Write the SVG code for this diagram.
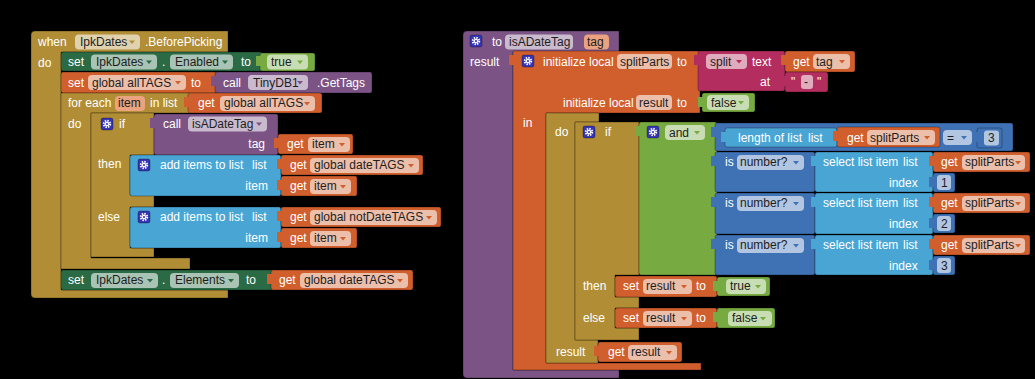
<svg xmlns="http://www.w3.org/2000/svg" width="1035" height="379" viewBox="0 0 1035 379">
<style>
.t{font-family:"Liberation Sans",Arial,sans-serif;font-size:12px;fill:#fff}
.ft{font-family:"Liberation Sans",Arial,sans-serif;font-size:12px;fill:#1e1e1e}
.f{fill:#fff;fill-opacity:.6}
.vf{fill:#eaa27f}
.ctl{fill:#b18e35}
.dg{fill:#2a6a45}
.or{fill:#d05f2d}
.pu{fill:#7c5385}
.lb{fill:#49a6d4}
.mb{fill:#3f71b5}
.gr{fill:#77ab41}
.mg{fill:#b32d5e}
.ao{fill:#d05f2d}.ag{fill:#2a6a45}.ap{fill:#7c5385}.al{fill:#77ab41}.am{fill:#3f71b5}.ar{fill:#b32d5e}
g[id] > rect:first-child, g[id] > path:first-child{stroke:#000;stroke-opacity:.3;stroke-width:1}
</style>
<defs>
<g id="gear">
<rect x="0" y="0" width="12" height="12" rx="2" fill="#3535b5" stroke="#b8b8f0" stroke-width="0.8"/>
<circle cx="6" cy="6" r="3.2" fill="none" stroke="#fff" stroke-width="2" stroke-dasharray="1.4 1.1"/>
<circle cx="6" cy="6" r="2.3" fill="#fff"/>
<circle cx="6" cy="6" r="1.1" fill="#3535b5"/>
</g>
<polygon id="dd" points="0,0 6,0 3,3.5"/>
</defs>
<rect width="1035" height="379" fill="#000"/>

<g id="connectors"></g>

<!-- ================= LEFT EVENT ================= -->
<g id="event-beforepicking">
<path class="ctl" d="M31,35 Q31,31 35,31 H228 V52 H61 V290 H228 V298 H35 Q31,298 31,294 Z"/>
<text class="t" x="38" y="46">when</text>
<rect class="f" x="75" y="34.5" width="65" height="15" rx="4"/>
<text class="ft" x="80" y="46">IpkDates</text>
<use href="#dd" class="ctl" x="129" y="40.5"/>
<text class="t" x="145" y="46">.BeforePicking</text>
<text class="t" x="38" y="67">do</text>
</g>

<g id="set-enabled">
<rect class="dg" x="61" y="52" width="201" height="19" rx="2"/>
<text class="t" x="68" y="66">set</text>
<rect class="f" x="91" y="54.5" width="66" height="15" rx="4"/>
<text class="ft" x="96" y="66">IpkDates</text>
<use href="#dd" class="ag" x="146" y="60.5"/>
<text class="t" x="162" y="66">.</text>
<rect class="f" x="170" y="54.5" width="63" height="15" rx="4"/>
<text class="ft" x="175" y="66">Enabled</text>
<use href="#dd" class="ag" x="222" y="60.5"/>
<text class="t" x="241" y="66">to</text>
</g>
<g id="true-1">
<rect class="gr" x="260" y="53" width="55" height="18" rx="2"/>
<rect class="gr" x="256" y="56" width="5" height="10"/>
<rect class="f" x="267" y="54.5" width="41" height="15" rx="4"/>
<text class="ft" x="271" y="66">true</text>
<use href="#dd" class="al" x="297" y="60.5"/>
</g>

<g id="set-alltags">
<rect class="or" x="61" y="72" width="156" height="21" rx="2"/>
<text class="t" x="68" y="87">set</text>
<rect class="f" x="88" y="75" width="98" height="15" rx="4"/>
<text class="ft" x="92" y="87">global allTAGS</text>
<use href="#dd" class="ao" x="175" y="81"/>
<text class="t" x="191" y="87">to</text>
</g>
<g id="call-gettags">
<rect class="pu" x="215" y="72" width="157" height="21" rx="2"/>
<rect class="pu" x="211" y="76" width="5" height="10"/>
<text class="t" x="223" y="87">call</text>
<rect class="f" x="248" y="75" width="60" height="15" rx="4"/>
<text class="ft" x="253" y="87">TinyDB1</text>
<use href="#dd" class="ap" x="297" y="81"/>
<text class="t" x="317" y="87">.GetTags</text>
</g>

<g id="foreach">
<path class="ctl" d="M61,93 H190 V113 H91 V258 H190 V269 H61 Z"/>
<text class="t" x="68" y="107">for each</text>
<rect class="vf" x="115" y="96" width="30" height="15" rx="4"/>
<text class="ft" x="118" y="107">item</text>
<text class="t" x="150" y="107">in list</text>
<text class="t" x="68" y="128">do</text>
</g>
<g id="get-alltags">
<rect class="or" x="188" y="93" width="134" height="20" rx="2"/>
<rect class="or" x="184" y="97" width="5" height="10"/>
<text class="t" x="198" y="107">get</text>
<rect class="f" x="220" y="96" width="95" height="15" rx="4"/>
<text class="ft" x="224" y="107">global allTAGS</text>
<use href="#dd" class="ao" x="304" y="102"/>
</g>

<g id="if-1">
<path class="ctl" d="M91,113 H154 V155 H130 V195 H154 V207 H130 V248 H154 V257 H91 Z"/>
<use href="#gear" x="101" y="118"/>
<text class="t" x="119" y="128">if</text>
<text class="t" x="98" y="168">then</text>
<text class="t" x="98" y="221">else</text>
</g>
<g id="call-isadatetag">
<rect class="pu" x="154" y="114" width="124" height="41" rx="2"/>
<rect class="pu" x="150" y="118" width="5" height="10"/>
<text class="t" x="163" y="128">call</text>
<rect class="f" x="188" y="116.5" width="79" height="15" rx="4"/>
<text class="ft" x="192" y="128">isADateTag</text>
<use href="#dd" class="ap" x="256" y="122.5"/>
<text class="t" x="265" y="148" text-anchor="end">tag</text>
</g>
<g id="get-item-1">
<rect class="or" x="278" y="134" width="75" height="20" rx="2"/>
<rect class="or" x="274" y="138" width="5" height="10"/>
<text class="t" x="287" y="148">get</text>
<rect class="f" x="308" y="137" width="42" height="15" rx="4"/>
<text class="ft" x="312" y="148">item</text>
<use href="#dd" class="ao" x="339" y="143"/>
</g>

<g id="add-items-1">
<rect class="lb" x="130" y="155" width="151" height="41" rx="2"/>
<use href="#gear" x="138" y="159"/>
<text class="t" x="160" y="169">add items to list</text>
<text class="t" x="252" y="169">list</text>
<text class="t" x="268" y="190" text-anchor="end">item</text>
</g>
<g id="get-datetags-1">
<rect class="or" x="281" y="155" width="142" height="20" rx="2"/>
<rect class="or" x="277" y="159" width="5" height="10"/>
<text class="t" x="290" y="169">get</text>
<rect class="f" x="310" y="158" width="109" height="15" rx="4"/>
<text class="ft" x="314" y="169">global dateTAGS</text>
<use href="#dd" class="ao" x="408" y="164"/>
</g>
<g id="get-item-2">
<rect class="or" x="281" y="176" width="76" height="20" rx="2"/>
<rect class="or" x="277" y="180" width="5" height="10"/>
<text class="t" x="290" y="190">get</text>
<rect class="f" x="310" y="179" width="41" height="15" rx="4"/>
<text class="ft" x="314" y="190">item</text>
<use href="#dd" class="ao" x="340" y="185"/>
</g>

<g id="add-items-2">
<rect class="lb" x="130" y="207" width="151" height="41" rx="2"/>
<use href="#gear" x="138" y="211"/>
<text class="t" x="160" y="221">add items to list</text>
<text class="t" x="252" y="221">list</text>
<text class="t" x="268" y="242" text-anchor="end">item</text>
</g>
<g id="get-notdatetags">
<rect class="or" x="281" y="207" width="160" height="20" rx="2"/>
<rect class="or" x="277" y="211" width="5" height="10"/>
<text class="t" x="290" y="221">get</text>
<rect class="f" x="310" y="210" width="127" height="15" rx="4"/>
<text class="ft" x="314" y="221">global notDateTAGS</text>
<use href="#dd" class="ao" x="426" y="216"/>
</g>
<g id="get-item-3">
<rect class="or" x="281" y="228" width="76" height="20" rx="2"/>
<rect class="or" x="277" y="232" width="5" height="10"/>
<text class="t" x="290" y="242">get</text>
<rect class="f" x="310" y="231" width="41" height="15" rx="4"/>
<text class="ft" x="314" y="242">item</text>
<use href="#dd" class="ao" x="340" y="237"/>
</g>

<g id="set-elements">
<rect class="dg" x="61" y="270" width="212" height="20" rx="2"/>
<text class="t" x="68" y="284">set</text>
<rect class="f" x="91" y="273" width="67" height="15" rx="4"/>
<text class="ft" x="96" y="284">IpkDates</text>
<use href="#dd" class="ag" x="147" y="279"/>
<text class="t" x="162" y="284">.</text>
<rect class="f" x="170" y="273" width="69" height="15" rx="4"/>
<text class="ft" x="175" y="284">Elements</text>
<use href="#dd" class="ag" x="228" y="279"/>
<text class="t" x="246" y="284">to</text>
</g>
<g id="get-datetags-2">
<rect class="or" x="271" y="270" width="142" height="20" rx="2"/>
<rect class="or" x="267" y="274" width="5" height="10"/>
<text class="t" x="279" y="284">get</text>
<rect class="f" x="300" y="273" width="108" height="15" rx="4"/>
<text class="ft" x="304" y="284">global dateTAGS</text>
<use href="#dd" class="ao" x="397" y="279"/>
</g>

<!-- ================= RIGHT PROCEDURE ================= -->
<g id="proc-isadatetag">
<path class="pu" d="M463,35 Q463,31 467,31 H619 V52 H513 V370 H619 V378 H467 Q463,378 463,374 Z"/>
<use href="#gear" x="470" y="35"/>
<text class="t" x="492" y="46">to</text>
<rect class="f" x="505" y="34.5" width="68" height="15" rx="4"/>
<text class="ft" x="509" y="46">isADateTag</text>
<rect class="vf" x="584" y="34.5" width="25" height="15" rx="4"/>
<text class="ft" x="587" y="46">tag</text>
<text class="t" x="470" y="66">result</text>
</g>

<g id="init-local">
<path class="or" d="M513,51 H700 V113 H546 V363 H701 V370 H513 Z"/>
<rect class="or" x="509" y="55" width="5" height="10"/>
<use href="#gear" x="522" y="55"/>
<text class="t" x="543" y="66">initialize local</text>
<rect class="f" x="617" y="54" width="55" height="15" rx="4"/>
<text class="ft" x="620" y="66">splitParts</text>
<text class="t" x="677" y="66">to</text>
<text class="t" x="563" y="107">initialize local</text>
<rect class="f" x="636" y="95" width="36" height="15" rx="4"/>
<text class="ft" x="639" y="107">result</text>
<text class="t" x="677" y="107">to</text>
<text class="t" x="523" y="127">in</text>
</g>

<g id="split">
<rect class="mg" x="698" y="51" width="87" height="40" rx="2"/>
<rect class="mg" x="694" y="55" width="5" height="10"/>
<rect class="f" x="706" y="54" width="41" height="15" rx="4"/>
<text class="ft" x="710" y="66">split</text>
<use href="#dd" class="ar" x="736" y="60"/>
<text class="t" x="752" y="66">text</text>
<text class="t" x="760" y="86">at</text>
</g>
<g id="get-tag">
<rect class="or" x="785" y="51" width="70" height="21" rx="2"/>
<rect class="or" x="781" y="55" width="5" height="10"/>
<text class="t" x="793" y="66">get</text>
<rect class="f" x="813" y="54" width="37" height="15" rx="4"/>
<text class="ft" x="816" y="66">tag</text>
<use href="#dd" class="ao" x="839" y="60"/>
</g>
<g id="text-dash">
<rect class="mg" x="785" y="72" width="43" height="20" rx="2"/>
<rect class="mg" x="781" y="76" width="5" height="10"/>
<text class="t" x="791" y="86" font-size="10">"</text>
<rect class="f" x="801" y="75" width="12" height="14" rx="3"/>
<text class="ft" x="804" y="86">-</text>
<text class="t" x="817" y="86" font-size="10">"</text>
</g>
<g id="false-1">
<rect class="gr" x="702" y="93" width="53" height="19" rx="2"/>
<rect class="gr" x="698" y="97" width="5" height="10"/>
<rect class="f" x="707" y="95" width="42" height="15" rx="4"/>
<text class="ft" x="711" y="107">false</text>
<use href="#dd" class="al" x="738" y="101"/>
</g>

<g id="do-result">
<path class="ctl" d="M546,113 H599 V122 H575 V340 H598 V363 H546 Z"/>
<text class="t" x="555" y="136">do</text>
<text class="t" x="556" y="356">result</text>
</g>

<g id="if-2">
<path class="ctl" d="M575,122 H639 V275 H615 V297 H639 V308 H615 V328 H639 V340 H575 Z"/>
<use href="#gear" x="583" y="126"/>
<text class="t" x="605" y="136">if</text>
<text class="t" x="583" y="290">then</text>
<text class="t" x="583" y="322">else</text>
</g>

<g id="and">
<rect class="gr" x="639" y="122" width="78" height="153" rx="2"/>
<rect class="gr" x="635" y="126" width="5" height="10"/>
<use href="#gear" x="647" y="126"/>
<rect class="f" x="665" y="125" width="40" height="15" rx="4"/>
<text class="ft" x="669" y="137">and</text>
<use href="#dd" class="al" x="694" y="131"/>
</g>

<g id="compare-eq">
<rect class="mb" x="715" y="123" width="298" height="28" rx="2"/>
<rect class="mb" x="711" y="127" width="5" height="10"/>
<rect class="f" x="943" y="130" width="29" height="15" rx="4"/>
<text class="ft" x="947" y="142">=</text>
<use href="#dd" class="am" x="961" y="136"/>
</g>
<g id="length-of-list">
<rect class="lb" x="725" y="128" width="112" height="19" rx="2"/>
<rect class="lb" x="721" y="132" width="5" height="10"/>
<text class="t" x="738" y="142">length of list</text>
<text class="t" x="808" y="142">list</text>
</g>
<g id="get-splitparts-0">
<rect class="or" x="837" y="127" width="103" height="20" rx="2"/>
<rect class="or" x="833" y="131" width="5" height="10"/>
<text class="t" x="847" y="142">get</text>
<rect class="f" x="867" y="130" width="68" height="15" rx="4"/>
<text class="ft" x="870" y="142">splitParts</text>
<use href="#dd" class="ao" x="924" y="136"/>
</g>
<g id="num-3a">
<rect class="mb" x="977" y="128" width="25" height="20" rx="2"/>
<rect class="mb" x="973" y="132" width="5" height="10"/>
<rect class="f" x="984" y="130.5" width="15" height="15" rx="3"/>
<text class="ft" x="988" y="142">3</text>
</g>

<g id="isnumber-1">
<rect class="mb" x="715" y="152" width="100" height="40" rx="2"/>
<rect class="mb" x="711" y="156" width="5" height="10"/>
<text class="t" x="725" y="166">is</text>
<rect class="f" x="737" y="155" width="67" height="15" rx="4"/>
<text class="ft" x="740" y="166">number?</text>
<use href="#dd" class="am" x="793" y="161"/>
</g>
<g id="select-1">
<rect class="lb" x="815" y="152" width="118" height="40" rx="2"/>
<rect class="lb" x="811" y="156" width="5" height="10"/>
<text class="t" x="823" y="166">select list item</text>
<text class="t" x="903" y="166">list</text>
<text class="t" x="889" y="187">index</text>
</g>
<g id="get-splitparts-1">
<rect class="or" x="933" y="152" width="97" height="20" rx="2"/>
<rect class="or" x="929" y="156" width="5" height="10"/>
<text class="t" x="941" y="166">get</text>
<rect class="f" x="962" y="155" width="63" height="15" rx="4"/>
<text class="ft" x="965" y="166">splitParts</text>
<use href="#dd" class="ao" x="1015" y="161"/>
</g>
<g id="num-1">
<rect class="mb" x="933" y="173" width="22" height="19" rx="2"/>
<rect class="mb" x="929" y="177" width="5" height="10"/>
<rect class="f" x="937" y="175" width="14" height="15" rx="3"/>
<text class="ft" x="941" y="187">1</text>
</g>

<g id="isnumber-2">
<rect class="mb" x="715" y="193" width="100" height="41" rx="2"/>
<rect class="mb" x="711" y="197" width="5" height="10"/>
<text class="t" x="725" y="207">is</text>
<rect class="f" x="737" y="196" width="67" height="15" rx="4"/>
<text class="ft" x="740" y="207">number?</text>
<use href="#dd" class="am" x="793" y="202"/>
</g>
<g id="select-2">
<rect class="lb" x="815" y="193" width="118" height="41" rx="2"/>
<rect class="lb" x="811" y="197" width="5" height="10"/>
<text class="t" x="823" y="207">select list item</text>
<text class="t" x="903" y="207">list</text>
<text class="t" x="889" y="228">index</text>
</g>
<g id="get-splitparts-2">
<rect class="or" x="933" y="193" width="97" height="20" rx="2"/>
<rect class="or" x="929" y="197" width="5" height="10"/>
<text class="t" x="941" y="207">get</text>
<rect class="f" x="962" y="196" width="63" height="15" rx="4"/>
<text class="ft" x="965" y="207">splitParts</text>
<use href="#dd" class="ao" x="1015" y="202"/>
</g>
<g id="num-2">
<rect class="mb" x="933" y="214" width="22" height="19" rx="2"/>
<rect class="mb" x="929" y="218" width="5" height="10"/>
<rect class="f" x="937" y="216" width="14" height="15" rx="3"/>
<text class="ft" x="941" y="228">2</text>
</g>

<g id="isnumber-3">
<rect class="mb" x="715" y="235" width="100" height="40" rx="2"/>
<rect class="mb" x="711" y="239" width="5" height="10"/>
<text class="t" x="725" y="249">is</text>
<rect class="f" x="737" y="238" width="67" height="15" rx="4"/>
<text class="ft" x="740" y="249">number?</text>
<use href="#dd" class="am" x="793" y="244"/>
</g>
<g id="select-3">
<rect class="lb" x="815" y="235" width="118" height="40" rx="2"/>
<rect class="lb" x="811" y="239" width="5" height="10"/>
<text class="t" x="823" y="249">select list item</text>
<text class="t" x="903" y="249">list</text>
<text class="t" x="889" y="270">index</text>
</g>
<g id="get-splitparts-3">
<rect class="or" x="933" y="235" width="97" height="20" rx="2"/>
<rect class="or" x="929" y="239" width="5" height="10"/>
<text class="t" x="941" y="249">get</text>
<rect class="f" x="962" y="238" width="63" height="15" rx="4"/>
<text class="ft" x="965" y="249">splitParts</text>
<use href="#dd" class="ao" x="1015" y="244"/>
</g>
<g id="num-3b">
<rect class="mb" x="933" y="256" width="22" height="19" rx="2"/>
<rect class="mb" x="929" y="260" width="5" height="10"/>
<rect class="f" x="937" y="258" width="14" height="15" rx="3"/>
<text class="ft" x="941" y="270">3</text>
</g>

<g id="set-result-true">
<rect class="or" x="615" y="276" width="102" height="21" rx="2"/>
<text class="t" x="623" y="290">set</text>
<rect class="f" x="643" y="279" width="49" height="15" rx="4"/>
<text class="ft" x="646" y="290">result</text>
<use href="#dd" class="ao" x="681" y="285"/>
<text class="t" x="696" y="290">to</text>
</g>
<g id="true-2">
<rect class="gr" x="717" y="277" width="53" height="19" rx="2"/>
<rect class="gr" x="713" y="281" width="5" height="10"/>
<rect class="f" x="726" y="279" width="40" height="15" rx="4"/>
<text class="ft" x="730" y="290">true</text>
<use href="#dd" class="al" x="755" y="285"/>
</g>
<g id="set-result-false">
<rect class="or" x="615" y="308" width="102" height="20" rx="2"/>
<text class="t" x="623" y="322">set</text>
<rect class="f" x="643" y="311" width="49" height="15" rx="4"/>
<text class="ft" x="646" y="322">result</text>
<use href="#dd" class="ao" x="681" y="317"/>
<text class="t" x="696" y="322">to</text>
</g>
<g id="false-2">
<rect class="gr" x="717" y="308" width="58" height="20" rx="2"/>
<rect class="gr" x="713" y="312" width="5" height="10"/>
<rect class="f" x="728" y="311" width="44" height="15" rx="4"/>
<text class="ft" x="732" y="322">false</text>
<use href="#dd" class="al" x="760" y="317"/>
</g>
<g id="get-result">
<rect class="or" x="598" y="342" width="84" height="20" rx="2"/>
<rect class="or" x="594" y="346" width="5" height="10"/>
<text class="t" x="608" y="356">get</text>
<rect class="f" x="628" y="345" width="49" height="15" rx="4"/>
<text class="ft" x="631" y="356">result</text>
<use href="#dd" class="ao" x="666" y="351"/>
</g>
</svg>
